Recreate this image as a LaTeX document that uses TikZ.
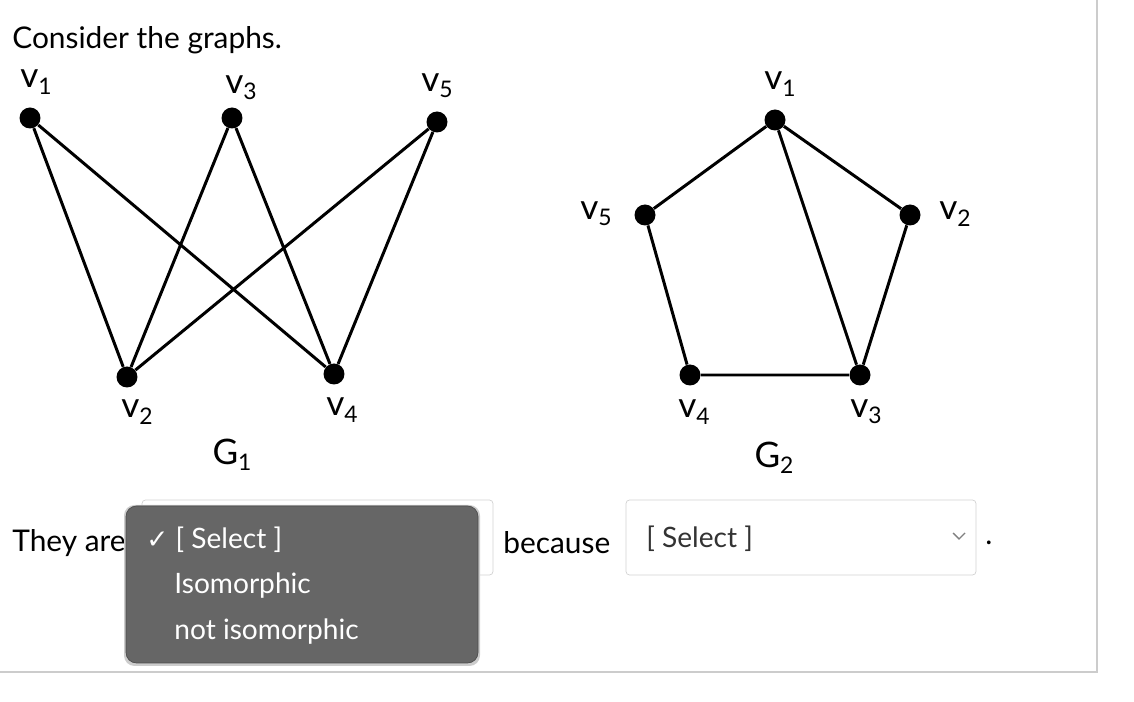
\documentclass[tikz,border=0pt]{standalone}
\usepackage{fontspec}
\setmainfont{Lato}
\newfontfamily\djv{DejaVu Sans}
\newcommand{\lsub}[1]{\raisebox{-0.35ex}{\fontsize{13}{14}\selectfont #1}}
\begin{document}
\begin{tikzpicture}[x=0.02cm,y=-0.02cm,
  vtx/.style={circle,fill=black,inner sep=0pt,minimum size=0.42cm},
  edge/.style={line width=1.7pt},
  lbl/.style={font=\fontsize{20}{22}\selectfont},
  txt/.style={font=\fontsize{17}{19}\selectfont,anchor=west,inner sep=0pt},
  menu/.style={font=\fontsize{16}{19}\selectfont,anchor=west,inner sep=0pt,text=white}]
\useasboundingbox (0,0) rectangle (1134,702);
\draw[gray!40,line width=0.6pt] (1097,0) -- (1097,672) -- (0,672);
\node[txt] (title) at (12,40) {Consider the graphs.};
% G1
\node[vtx] (a1) at (30,118) {};
\node[vtx] (a3) at (232,118) {};
\node[vtx] (a5) at (437,122) {};
\node[vtx] (a2) at (127,377) {};
\node[vtx] (a4) at (334,374) {};
\draw[edge] (a1)--(a4) (a1)--(a2) (a3)--(a2) (a3)--(a4) (a5)--(a2) (a5)--(a4);
\node[lbl] (la1) at (36,82) {v\lsub{1}};
\node[lbl] (la3) at (241,88) {v\lsub{3}};
\node[lbl] (la5) at (437,86) {v\lsub{5}};
\node[lbl] (la2) at (137,412) {v\lsub{2}};
\node[lbl] (la4) at (342,410) {v\lsub{4}};
\node[lbl] (g1) at (232,455) {G\lsub{1}};
% G2
\node[vtx] (b1) at (775,120) {};
\node[vtx] (b5) at (645,215) {};
\node[vtx] (b2) at (910,215) {};
\node[vtx] (b4) at (690,375) {};
\node[vtx] (b3) at (860,375) {};
\draw[edge] (b1)--(b5) (b1)--(b2) (b1)--(b3) (b5)--(b4) (b4)--(b3) (b2)--(b3);
\node[lbl] (lb1) at (780,84) {v\lsub{1}};
\node[lbl] (lb5) at (596,214) {v\lsub{5}};
\node[lbl] (lb2) at (955,214) {v\lsub{2}};
\node[lbl] (lb4) at (694,412) {v\lsub{4}};
\node[lbl] (lb3) at (866,412) {v\lsub{3}};
\node[lbl] (g2) at (774,458) {G\lsub{2}};
% sentence
\node[txt] (they) at (12,543) {They are};
\draw[gray!35,fill=white,rounded corners=2pt] (142,500) rectangle (493,575);
\node[txt] (because) at (503,543) {because};
\draw[gray!35,fill=white,rounded corners=2pt] (626,500) rectangle (976,575);
\node[menu,text=black!80] (sel2) at (646,539) {[ Select ]};
\draw[line width=0.8pt,gray] (953,533) -- (959,539) -- (965,533);
\node[txt] (dot) at (985,543) {.};
% dropdown overlay
\fill[black!20,rounded corners=6pt] (124,505) rectangle (480,666);
\draw[black!70,fill=black!60,rounded corners=6pt] (126,506) rectangle (478,663);
\node[menu] (sel) at (146,540) {{\djv\fontsize{15}{17}\selectfont ✓} [ Select ]};
\node[menu] (iso) at (174,586) {Isomorphic};
\node[menu] (niso) at (174,632) {not isomorphic};
\end{tikzpicture}
\end{document}
